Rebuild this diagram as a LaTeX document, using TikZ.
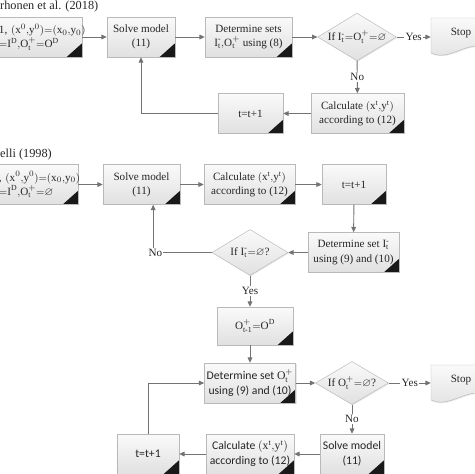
\documentclass[tikz,border=0pt]{standalone}
\usepackage{amsmath,amssymb}
\usepackage{fontspec}
\setmainfont{Liberation Serif}
\newfontfamily\calibri{Carlito}
\usetikzlibrary{shapes.geometric,arrows.meta,shadows,backgrounds}

\tikzset{
  shade/.style={draw=gray!55, top color=black!2, bottom color=black!12,
    drop shadow={opacity=0.18, shadow xshift=0.8pt, shadow yshift=-0.8pt}},
  box/.style={shade, minimum height=1.2cm, align=center, inner sep=2pt,
    text=black!85, font=\fontsize{9.5}{12}\selectfont,
    path picture={\fill[black!90] (path picture bounding box.south east)
      -- ++(-0.46cm,0) -- ++(0.46cm,0.41cm) -- cycle;}},
  sbox/.style={box, font=\calibri\fontsize{10}{12.8}\selectfont},
  decide/.style={diamond, shade, aspect=1.65, inner sep=0pt, text=black!85,
    font=\fontsize{9.5}{12}\selectfont},
  stopbox/.style={minimum width=1.8cm, inner sep=0pt, text=black!85,
    font=\fontsize{9.5}{12}\selectfont},
  title/.style={anchor=base west, inner sep=0pt, text=black!85,
    font=\fontsize{10.5}{12}\selectfont},
  arr/.style={draw=black!55, line width=0.8pt, -{Triangle[length=4.5pt,width=4pt]}},
  lbl/.style={fill=white, inner sep=1pt, text=black!85, font=\fontsize{9.5}{12}\selectfont}
}
\newcommand{\mneg}{{\text{-}}}

\begin{document}
\begin{tikzpicture}[x=0.03cm, y=-0.03cm]
\useasboundingbox (0,0) rectangle (474,474);

% first scheme
\node[title] (title1) at (0,9) {rhonen et al. (2018)};

\node[box, minimum width=2.64cm, text width=2.34cm, inner xsep=0.15cm, align=left] (init1) at (38,37)
  {\mbox{1, $(\mathrm{x}^0{,}\mathrm{y}^0){=}(\mathrm{x}_0{,}\mathrm{y}_0)$}\\\mbox{${=}\mathrm{I}^\mathrm{D}{,}\mathrm{O}_\mathrm{t}^+{=}\mathrm{O}^\mathrm{D}$}};
\node[box, minimum width=2.04cm] (solve1) at (141,37) {Solve model\\(11)};
\node[box, minimum width=2.61cm] (det1) at (248.5,37) {Determine sets\\$\mathrm{I}_\mathrm{t}^\mneg{,}\mathrm{O}_\mathrm{t}^+$ using (8)};
\node[decide, minimum width=2.34cm, minimum height=1.41cm] (dia1) at (357,37) {If $\mathrm{I}_\mathrm{t}^\mneg{=}\mathrm{O}_\mathrm{t}^+{=}\varnothing$};
\node[stopbox] (stop1) at (461,33) {Stop};
\node[box, minimum width=2.79cm] (calc1) at (357.5,113.5) {Calculate $(\mathrm{x}^\mathrm{t}{,}\mathrm{y}^\mathrm{t})$\\according to (12)};
\node[box, minimum width=1.95cm] (tplus1) at (250.5,113.5) {t=t+1};

\path[draw,arr] (init1) -- (solve1);
\path[draw,arr] (solve1) -- (det1);
\path[draw,arr] (det1) -- (dia1);
\path[draw,arr] (dia1) -- node[lbl] {Yes} (dia1 -| stop1.west);
\path[draw,arr] (dia1) -- node[lbl] {No} (calc1);
\path[draw,arr] (calc1) -- (tplus1);
\path[draw,arr] (tplus1.west) -| (solve1.south);

% second scheme
\node[title] (title2) at (0,157) {elli (1998)};

\node[box, minimum width=2.52cm, text width=2.22cm, inner xsep=0.15cm, align=left] (init2) at (36,184.5)
  {\mbox{, $(\mathrm{x}^0{,}\mathrm{y}^0){=}(\mathrm{x}_0{,}\mathrm{y}_0)$}\\\mbox{${=}\mathrm{I}^\mathrm{D}{,}\mathrm{O}_\mathrm{t}^+{=}\varnothing$}};
\node[box, minimum width=2.31cm] (solve2) at (141.5,184.5) {Solve model\\(11)};
\node[box, minimum width=2.73cm] (calc2) at (249.5,184.5) {Calculate $(\mathrm{x}^\mathrm{t}{,}\mathrm{y}^\mathrm{t})$\\according to (12)};
\node[box, minimum width=1.92cm] (tplus2) at (354,184.5) {t=t+1};
\node[box, minimum width=2.73cm] (detI) at (353.5,252.5) {Determine set $\mathrm{I}_\mathrm{t}^\mneg$\\using (9) and (10)};
\node[decide, minimum width=2.28cm, minimum height=1.38cm] (dia2) at (250,252.5) {If $\mathrm{I}_\mathrm{t}^\mneg{=}\varnothing$?};
\node[box, minimum width=2.28cm, minimum height=1.14cm] (opt) at (255,326) {$\mathrm{O}_\mathrm{t\text{-}1}^+{=}\mathrm{O}^\mathrm{D}$};
\node[sbox, minimum width=2.7cm] (detO) at (250,383) {Determine set $\mathrm{O}_\mathrm{t}^+$\\using (9) and (10)};
\node[decide, minimum width=2.19cm, minimum height=1.29cm] (dia3) at (352,383) {If $\mathrm{O}_\mathrm{t}^+{=}\varnothing$?};
\node[stopbox] (stop2) at (461,380) {Stop};
\node[sbox, minimum width=1.92cm] (solve3) at (352,454) {Solve model\\(11)};
\node[sbox, minimum width=2.64cm] (calc3) at (250,454) {Calculate $(\mathrm{x}^\mathrm{t}{,}\mathrm{y}^\mathrm{t})$\\according to (12)};
\node[sbox, minimum width=1.86cm] (tplus3) at (148,454) {t=t+1};

\path[draw,arr] (init2) -- (solve2);
\path[draw,arr] (solve2) -- (calc2);
\path[draw,arr] (calc2) -- (tplus2);
\path[draw,arr] (tplus2) -- (detI);
\path[draw,arr] (detI) -- (dia2);
\path[draw,arr] (dia2.west) -| node[lbl, pos=0.5, xshift=2pt] {No} ([xshift=0.35cm]solve2.south);
\path[draw,arr] (dia2) -- node[lbl] {Yes} (dia2 |- opt.north);
\path[draw,arr] (detO |- opt.south) -- (detO);
\path[draw,arr] (detO) -- (dia3);
\path[draw,arr] (dia3) -- node[lbl] {Yes} (dia3 -| stop2.west);
\path[draw,arr] (dia3) -- node[lbl] {No} (solve3);
\path[draw,arr] (solve3) -- (calc3);
\path[draw,arr] (calc3) -- (tplus3);
\path[draw,arr] (tplus3) |- (detO);

% stop shapes
\begin{scope}[on background layer]
\foreach \s in {stop1,stop2}
  \path[shade] ([shift={(-30,-15)}]\s.center) -- ([shift={(30,-15)}]\s.center)
    -- ([shift={(30,14)}]\s.center)
    .. controls ([shift={(4,7)}]\s.center) and ([shift={(-11,29)}]\s.center) .. ([shift={(-30,20)}]\s.center)
    -- cycle;
\end{scope}

\end{tikzpicture}
\end{document}
